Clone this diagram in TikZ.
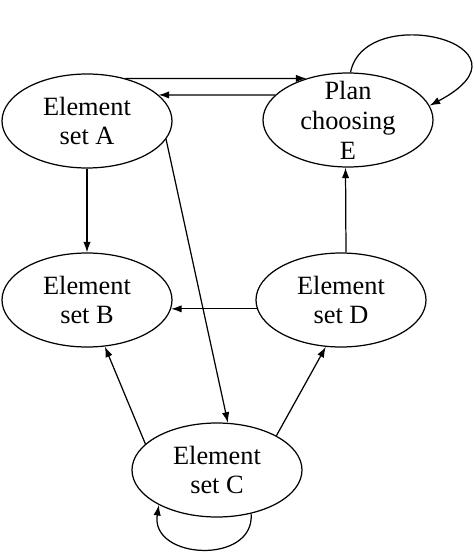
\documentclass[tikz,border=0pt]{standalone}
\usepackage{fontspec}
\setmainfont{Liberation Serif}
\usetikzlibrary{shapes.geometric,arrows.meta}
\begin{document}
\begin{tikzpicture}[x=0.2mm,y=-0.2mm,line width=0.7pt,
  >={Latex[length=6pt,width=4.2pt]},
  elem/.style={draw, ellipse, minimum width=34mm, minimum height=18.8mm,
    inner sep=-6pt, align=center, font=\fontsize{15}{17}\selectfont}]
\useasboundingbox (0,0) rectangle (474,552);
%\draw[help lines] (0,0) grid[step=50] (474,552);
\node[elem] (A) at (87,121) {Element\\set A};
\node[elem] (E) at (348,120) {Plan\\choosing\\E};
\node[elem] (B) at (87,300) {Element\\set B};
\node[elem] (D) at (341,300) {Element\\set D};
\node[elem] (C) at (217,470) {Element\\set C};
%
\draw[->] (A.48) -- (E.135);
\draw[->] (E.161) -- (A.20);
\draw[->] (A.south) -- (B.north);
\draw[->] (A.-13) -- (C.77);
\draw[->] (D.84) -- (E.-93);
\draw[->] (D.186) -- (B.-6);
\draw[->] (C.160) -- (B.-69);
\draw[->] (C.30) -- (D.-108);
% self loops
\draw[->] (E.87) .. controls (365,0) and (545,45) .. (E.10);
\draw[->] (C.-52) .. controls (255,565) and (150,560) .. (C.211);
\end{tikzpicture}
\end{document}
